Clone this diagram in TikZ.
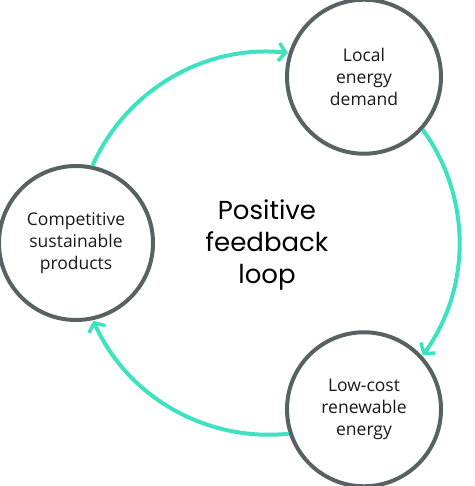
\documentclass[tikz,border=0pt]{standalone}
\usepackage{fontspec}
\setmainfont{Open Sans}
\newfontfamily\centerfont{Poppins}
\usetikzlibrary{arrows.meta}
\definecolor{ringgray}{RGB}{88,98,98}
\definecolor{flowteal}{RGB}{62,226,192}
\tikzset{
  ring/.style={circle, draw=ringgray, line width=4pt, minimum size=154pt, inner sep=0pt,
    align=center, font=\fontsize{17.5}{22}\selectfont, text=black!90},
  flow/.style={draw=flowteal, line width=4pt,
    -{Straight Barb[length=7pt,width=18pt,line width=3.5pt]}},
}
\begin{document}
\begin{tikzpicture}[x=1pt,y=1pt]
\useasboundingbox (0,0) rectangle (474,486);
\coordinate (C) at (268,243);
\node[ring] (T) at ([shift={(60:192)}]C) {Local\\energy\\demand};
\node[ring] (L) at ([shift={(180:192)}]C) {Competitive\\sustainable\\products};
\node[ring] (B) at ([shift={(-60:192)}]C) {Low-cost\\renewable\\energy};
\node[align=center, font=\centerfont\fontsize{26}{32}\selectfont] (P) at (267,241) {Positive\\feedback\\loop};
\draw[flow] (L.78) arc[start angle=156, end angle=84, radius=192];
\draw[flow] (T.-42) arc[start angle=36, end angle=-36, radius=192];
\draw[flow] (B.198) arc[start angle=-84, end angle=-156, radius=192];
\end{tikzpicture}
\end{document}
